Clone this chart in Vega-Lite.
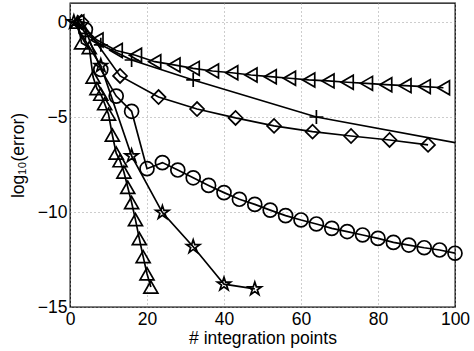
{
  "$schema": "https://vega.github.io/schema/vega-lite/v6.json",
  "width": 385,
  "height": 304,
  "autosize": {"type": "none"},
  "padding": {"left": 70, "top": 3, "right": 19, "bottom": 44},
  "background": "white",
  "config": {
    "view": {"stroke": "black", "strokeWidth": 1.3},
    "font": "Liberation Sans",
    "axis": {
      "grid": true,
      "gridColor": "#9a9a9a",
      "gridDash": [1, 3],
      "gridWidth": 1,
      "domain": false,
      "ticks": false,
      "labelFont": "Liberation Sans",
      "labelFontSize": 17.5,
      "labelColor": "black",
      "labelFlush": false,
      "titleFont": "Liberation Sans",
      "titleFontSize": 17.5,
      "titleColor": "black",
      "titleFontWeight": "normal"
    }
  },
  "data": {
    "values": [
      {"s": "tri", "x": 2, "y": 0},
      {"s": "tri", "x": 3, "y": -1.1},
      {"s": "tri", "x": 5, "y": -1.35},
      {"s": "tri", "x": 6, "y": -2.9},
      {"s": "tri", "x": 7, "y": -3.5},
      {"s": "tri", "x": 8, "y": -3.8},
      {"s": "tri", "x": 9, "y": -4.3},
      {"s": "tri", "x": 10, "y": -4.85},
      {"s": "tri", "x": 11, "y": -5.95},
      {"s": "tri", "x": 12, "y": -6.9},
      {"s": "tri", "x": 13, "y": -7.3},
      {"s": "tri", "x": 14, "y": -7.9},
      {"s": "tri", "x": 15, "y": -8.7},
      {"s": "tri", "x": 16, "y": -9.5},
      {"s": "tri", "x": 17, "y": -10.4},
      {"s": "tri", "x": 18, "y": -11.4},
      {"s": "tri", "x": 19, "y": -12.35},
      {"s": "tri", "x": 20, "y": -13.25},
      {"s": "tri", "x": 21, "y": -13.95},
      {"s": "circle", "x": 4, "y": -0.4},
      {"s": "circle", "x": 8, "y": -2.5},
      {"s": "circle", "x": 12, "y": -3.9},
      {"s": "circle", "x": 16, "y": -4.7},
      {"s": "circle", "x": 20, "y": -7.72},
      {"s": "circle", "x": 24, "y": -7.4},
      {"s": "circle", "x": 28, "y": -7.79},
      {"s": "circle", "x": 32, "y": -8.2},
      {"s": "circle", "x": 36, "y": -8.6},
      {"s": "circle", "x": 40, "y": -8.98},
      {"s": "circle", "x": 44, "y": -9.33},
      {"s": "circle", "x": 48, "y": -9.6},
      {"s": "circle", "x": 52, "y": -9.9},
      {"s": "circle", "x": 56, "y": -10.19},
      {"s": "circle", "x": 60, "y": -10.42},
      {"s": "circle", "x": 64, "y": -10.63},
      {"s": "circle", "x": 68, "y": -10.86},
      {"s": "circle", "x": 72, "y": -11.03},
      {"s": "circle", "x": 76, "y": -11.21},
      {"s": "circle", "x": 80, "y": -11.39},
      {"s": "circle", "x": 84, "y": -11.6},
      {"s": "circle", "x": 88, "y": -11.74},
      {"s": "circle", "x": 92, "y": -11.88},
      {"s": "circle", "x": 96, "y": -12.0},
      {"s": "circle", "x": 100, "y": -12.17},
      {"s": "star", "x": 1, "y": 0},
      {"s": "star", "x": 8, "y": -2.3},
      {"s": "star", "x": 16, "y": -7.05},
      {"s": "star", "x": 24, "y": -10.03},
      {"s": "star", "x": 32, "y": -11.83},
      {"s": "star", "x": 40, "y": -13.8},
      {"s": "star", "x": 48, "y": -14.05},
      {"s": "diamond", "x": 3, "y": 0},
      {"s": "diamond", "x": 13, "y": -2.84},
      {"s": "diamond", "x": 23, "y": -3.95},
      {"s": "diamond", "x": 33, "y": -4.58},
      {"s": "diamond", "x": 43, "y": -5.05},
      {"s": "diamond", "x": 53, "y": -5.47},
      {"s": "diamond", "x": 63, "y": -5.77},
      {"s": "diamond", "x": 73, "y": -6.0},
      {"s": "diamond", "x": 83, "y": -6.21},
      {"s": "diamond", "x": 93, "y": -6.47},
      {"s": "plus", "x": 2, "y": 0},
      {"s": "plus", "x": 4, "y": -0.6},
      {"s": "plus", "x": 8, "y": -1.2},
      {"s": "plus", "x": 16, "y": -2.0},
      {"s": "plus", "x": 32, "y": -3.05},
      {"s": "plus", "x": 64, "y": -5.0},
      {"s": "plus", "x": 128, "y": -7.4},
      {"s": "left", "x": 2, "y": 0},
      {"s": "left", "x": 7, "y": -0.95},
      {"s": "left", "x": 12, "y": -1.5},
      {"s": "left", "x": 17, "y": -1.75},
      {"s": "left", "x": 22, "y": -2.09},
      {"s": "left", "x": 27, "y": -2.26},
      {"s": "left", "x": 32, "y": -2.44},
      {"s": "left", "x": 37, "y": -2.58},
      {"s": "left", "x": 42, "y": -2.67},
      {"s": "left", "x": 47, "y": -2.79},
      {"s": "left", "x": 52, "y": -2.88},
      {"s": "left", "x": 57, "y": -2.96},
      {"s": "left", "x": 62, "y": -3.05},
      {"s": "left", "x": 67, "y": -3.1},
      {"s": "left", "x": 72, "y": -3.17},
      {"s": "left", "x": 77, "y": -3.23},
      {"s": "left", "x": 82, "y": -3.3},
      {"s": "left", "x": 87, "y": -3.35},
      {"s": "left", "x": 92, "y": -3.4},
      {"s": "left", "x": 97, "y": -3.46}
    ]
  },
  "encoding": {
    "x": {
      "field": "x",
      "type": "quantitative",
      "scale": {"domain": [0, 100], "nice": false, "zero": false},
      "axis": {"title": "# integration points", "values": [0, 20, 40, 60, 80, 100], "labelPadding": 3, "titlePadding": 2}
    },
    "y": {
      "field": "y",
      "type": "quantitative",
      "scale": {"domain": [-15, 1], "nice": false, "zero": false},
      "axis": {"title": "log₁₀(error)", "values": [-15, -10, -5, 0], "labelPadding": 3, "titlePadding": 10}
    }
  },
  "layer": [
    {
      "mark": {"type": "line", "color": "black", "strokeWidth": 1.7, "clip": true},
      "encoding": {"detail": {"field": "s"}, "order": {"field": "x"}}
    },
    {
      "transform": [{"filter": "datum.x <= 100"}],
      "mark": {"type": "point", "filled": false, "color": "black", "strokeWidth": 1.7, "size": 195, "opacity": 1},
      "encoding": {
        "shape": {
          "field": "s",
          "scale": {
            "domain": ["tri", "circle", "star", "diamond", "plus", "left"],
            "range": ["triangle-up", "circle", "M0,-1L0.2245,-0.309L0.951,-0.309L0.363,0.118L0.588,0.809L0,0.382L-0.588,0.809L-0.363,0.118L-0.951,-0.309L-0.2245,-0.309Z", "diamond", "M-1,0L1,0M0,-1L0,1", "triangle-left"]
          },
          "legend": null
        }
      }
    }
  ]
}
